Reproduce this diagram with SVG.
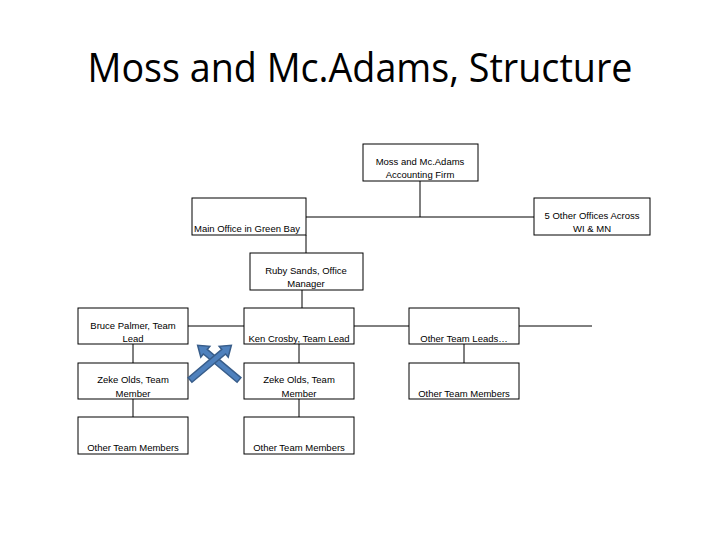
<svg xmlns="http://www.w3.org/2000/svg" width="720" height="540" viewBox="0 0 720 540">
<style>
.b{fill:#fff;stroke:#000;stroke-width:1}
.t{font-family:"Liberation Sans",Arial,sans-serif;font-size:9.5px;fill:#000;text-anchor:middle}
.c line{stroke:#000;stroke-width:1}
</style>
<defs>
<g id="arr"><polygon points="0,-3 44,-3 44,-7 54,0 44,7 44,3 0,3" fill="#4F81BD" stroke="#385D8A" stroke-width="1.5"/></g>
</defs>
<rect width="720" height="540" fill="#fff"/>
<text x="360" y="82" font-family="Open Sans,Liberation Sans,Arial,sans-serif" font-size="40" text-anchor="middle" textLength="545" lengthAdjust="spacingAndGlyphs">Moss and Mc.Adams, Structure</text>
<g class="c">
<line x1="420" y1="181" x2="420" y2="217"/>
<line x1="306" y1="217" x2="534" y2="217"/>
<line x1="306" y1="235" x2="306" y2="253"/>
<line x1="302" y1="290" x2="302" y2="308"/>
<line x1="188" y1="326" x2="244" y2="326"/>
<line x1="354" y1="326" x2="409" y2="326"/>
<line x1="519" y1="326" x2="592" y2="326"/>
<line x1="133" y1="344" x2="133" y2="363"/>
<line x1="133" y1="399" x2="133" y2="417"/>
<line x1="299" y1="344" x2="299" y2="363"/>
<line x1="299" y1="399" x2="299" y2="417"/>
<line x1="464" y1="344" x2="464" y2="363"/>
</g>
<g id="firm"><rect class="b" x="363" y="144" width="115" height="37"/><text class="t" x="420" y="165">Moss and Mc.Adams</text><text class="t" x="420" y="178">Accounting Firm</text></g>
<g id="main"><rect class="b" x="192" y="198" width="114" height="37"/><text class="t" x="194" y="232" style="text-anchor:start">Main Office in Green Bay</text></g>
<g id="other"><rect class="b" x="534" y="198" width="116" height="37"/><text class="t" x="592" y="219">5 Other Offices Across</text><text class="t" x="592" y="232">WI &amp; MN</text></g>
<g id="ruby"><rect class="b" x="250" y="253" width="113" height="37"/><text class="t" x="306" y="274">Ruby Sands, Office</text><text class="t" x="306" y="287">Manager</text></g>
<g id="bruce"><rect class="b" x="78" y="308" width="110" height="36"/><text class="t" x="133" y="329">Bruce Palmer, Team</text><text class="t" x="133" y="342">Lead</text></g>
<g id="ken"><rect class="b" x="244" y="308" width="110" height="36"/><text class="t" x="299" y="342">Ken Crosby, Team Lead</text></g>
<g id="leads"><rect class="b" x="409" y="308" width="110" height="36"/><text class="t" x="464" y="342">Other Team Leads…</text></g>
<g id="zeke1"><rect class="b" x="78" y="363" width="110" height="36"/><text class="t" x="133" y="383">Zeke Olds, Team</text><text class="t" x="133" y="397">Member</text></g>
<g id="zeke2"><rect class="b" x="244" y="363" width="110" height="36"/><text class="t" x="299" y="383">Zeke Olds, Team</text><text class="t" x="299" y="397">Member</text></g>
<g id="om3"><rect class="b" x="409" y="363" width="110" height="36"/><text class="t" x="464" y="397">Other Team Members</text></g>
<g id="om1"><rect class="b" x="78" y="417" width="110" height="37"/><text class="t" x="133" y="451">Other Team Members</text></g>
<g id="om2"><rect class="b" x="244" y="417" width="110" height="37"/><text class="t" x="299" y="451">Other Team Members</text></g>
<g id="arrows">
<use href="#arr" transform="translate(239,380) rotate(-140)"/>
<use href="#arr" transform="translate(190,380) rotate(-40)"/>
</g>
</svg>
